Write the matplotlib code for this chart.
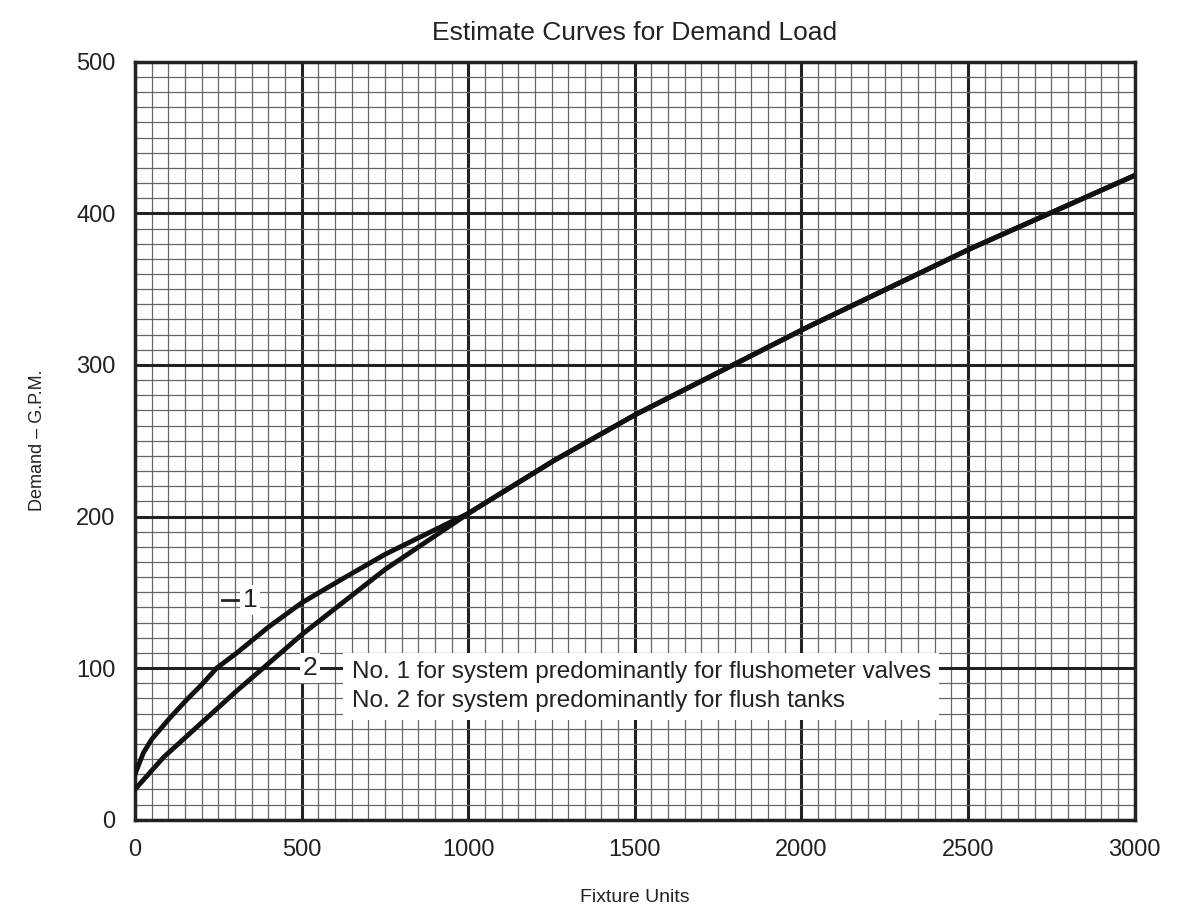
import numpy as np
import matplotlib.pyplot as plt

plt.rcParams['font.family'] = ['Liberation Sans', 'DejaVu Sans']

# Curve No. 1 (flushometer valves)
fu_1 = [0, 25, 50, 100, 150, 200, 245, 300, 400, 500, 600, 750, 1000, 1250, 1500, 2000, 2500, 3000]
gpm_1 = [30, 44, 53, 66, 78, 89, 100, 109, 127, 143, 156, 175, 202, 236, 267, 323, 376, 425]
# Curve No. 2 (flush tanks)
fu_2 = [0, 85, 200, 300, 385, 500, 750, 1000, 1250, 1500, 2000, 2500, 3000]
gpm_2 = [20, 41, 64, 84, 100, 122, 165, 202, 236, 267, 323, 376, 425]

fig = plt.figure(figsize=(12, 9.22), dpi=100)
ax = fig.add_axes([0.1125, 0.111, 0.833, 0.822])

ax.set_xlim(0, 3000)
ax.set_ylim(0, 500)
ax.set_xticks(np.arange(0, 3001, 500))
ax.set_yticks(np.arange(0, 501, 100))
ax.set_xticks(np.arange(0, 3001, 50), minor=True)
ax.set_yticks(np.arange(0, 501, 10), minor=True)
ax.grid(which='major', color='#222222', lw=2.2)
ax.grid(which='minor', color='#666666', lw=0.9)
ax.set_axisbelow(True)
ax.tick_params(which='both', length=0, labelsize=17, pad=14, colors='#222222')
for s in ax.spines.values():
    s.set_linewidth(2.5)
    s.set_color('#222222')

xs1 = np.linspace(0, 3000, 600)
ax.plot(xs1, np.interp(xs1, fu_1, gpm_1), color='#111111', lw=3.5, zorder=5)
ax.plot(xs1, np.interp(xs1, fu_2, gpm_2), color='#111111', lw=3.5, zorder=5)

# curve labels
ax.text(345, 145, '1', fontsize=19, ha='center', va='center', color='#222222',
        bbox=dict(facecolor='white', edgecolor='none', pad=2), zorder=6)
ax.plot([260, 310], [145, 145], color='#222222', lw=2, zorder=6)
ax.text(525, 100, '2', fontsize=19, ha='center', va='center', color='#222222',
        bbox=dict(facecolor='white', edgecolor='none', pad=2), zorder=6)
ax.plot([575, 640], [100, 100], color='#222222', lw=2, zorder=6)
ax.text(650, 88, 'No. 1 for system predominantly for flushometer valves\n'
        'No. 2 for system predominantly for flush tanks',
        fontsize=17.5, ha='left', va='center', color='#222222', linespacing=1.4,
        bbox=dict(facecolor='white', edgecolor='none', pad=6), zorder=6)

ax.set_title('Estimate Curves for Demand Load', fontsize=19, pad=16, color='#222222')
ax.set_xlabel('Fixture Units', fontsize=14, labelpad=20, color='#222222')
ax.set_ylabel('Demand – G.P.M.', fontsize=13, labelpad=22, color='#222222')

fig.savefig('out.png', dpi=100)
